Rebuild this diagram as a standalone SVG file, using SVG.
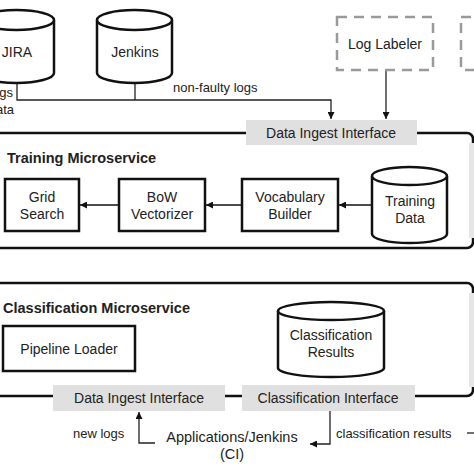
<svg xmlns="http://www.w3.org/2000/svg" width="474" height="474" viewBox="0 0 474 474">
<defs>
<marker id="ah" viewBox="0 0 10 10" refX="10" refY="5" markerWidth="7" markerHeight="7" markerUnits="userSpaceOnUse" orient="auto">
<path d="M0,0 L10,5 L0,10 z" fill="#111"/>
</marker>
<style>
text{font-family:"Liberation Sans",Arial,sans-serif;fill:#222;}
.t{font-size:14px;text-anchor:middle;}
.a{font-size:13px;}
.h{font-size:14.5px;font-weight:bold;}
.box{fill:#fff;stroke:#111;stroke-width:2.5;}
.cyl{fill:#fff;stroke:#111;stroke-width:2.5;}
.cont{fill:none;stroke:#111;stroke-width:2.5;}
.iface{fill:#e0e0e0;}
.bar{fill:#e6e6e6;}
.dash{fill:#fff;stroke:#9a9a9a;stroke-width:2.5;stroke-dasharray:10 7;}
.c{fill:none;stroke:#222;stroke-width:1.3;}
.c2{fill:none;stroke:#111;stroke-width:1.6;}
</style>
</defs>

<g id="training-microservice">
<rect class="cont" x="-10" y="133" width="483" height="115" rx="6"/>
<rect class="bar" x="469" y="143" width="10" height="95"/>
<text class="h" x="7" y="163">Training Microservice</text>
</g>
<g id="classification-microservice">
<rect class="cont" x="-10" y="283" width="483" height="113" rx="6"/>
<rect class="bar" x="469" y="293" width="10" height="94"/>
<text class="h" x="3" y="313">Classification Microservice</text>
</g>

<g id="connectors">
<polyline class="c" points="17,83 17,100 331,100 331,119" marker-end="url(#ah)"/>
<line class="c" x1="135" y1="83" x2="135" y2="100"/>
<line class="c" x1="386" y1="70" x2="386" y2="119" marker-end="url(#ah)"/>
<line class="c2" x1="372" y1="205" x2="339" y2="205" marker-end="url(#ah)"/>
<line class="c2" x1="242" y1="205" x2="206" y2="205" marker-end="url(#ah)"/>
<line class="c2" x1="119" y1="205" x2="80" y2="205" marker-end="url(#ah)"/>
<polyline class="c" points="155,443 139,443 139,412" marker-end="url(#ah)"/>
<polyline class="c" points="330,411 330,444 310,444" marker-end="url(#ah)"/>
<line class="c" x1="467" y1="433" x2="474" y2="433"/>
<text class="a" x="173" y="92">non-faulty logs</text>
<text class="a" x="13" y="97" text-anchor="end">logs</text>
<text class="a" x="14" y="114" text-anchor="end">data</text>
<text class="a" x="73" y="438">new logs</text>
<text class="a" x="336" y="438">classification results</text>
</g>

<g id="jira">
<path class="cyl" d="M-21,20 L-21,73 A37.5,10 0 0 0 54,73 L54,20"/>
<ellipse class="cyl" cx="16.5" cy="20" rx="37.5" ry="10"/>
<text class="t" x="17" y="57">JIRA</text>
</g>
<g id="jenkins">
<path class="cyl" d="M97,20 L97,73 A37.5,10 0 0 0 172,73 L172,20"/>
<ellipse class="cyl" cx="134.5" cy="20" rx="37.5" ry="10"/>
<text class="t" x="135" y="57">Jenkins</text>
</g>
<g id="log-labeler">
<rect class="dash" x="337" y="17" width="96" height="53"/>
<text class="t" x="385" y="49">Log Labeler</text>
</g>
<g id="labeler-2">
<rect class="dash" x="461" y="17" width="40" height="53"/>
</g>

<g id="data-ingest-top">
<rect class="iface" x="246" y="120" width="171" height="25"/>
<text class="t" x="331" y="138">Data Ingest Interface</text>
</g>

<g id="grid-search">
<rect class="box" x="5" y="179" width="74" height="52"/>
<text class="t" x="42" y="202">Grid</text>
<text class="t" x="42" y="219">Search</text>
</g>
<g id="bow-vectorizer">
<rect class="box" x="119" y="179" width="86" height="52"/>
<text class="t" x="162" y="202">BoW</text>
<text class="t" x="162" y="219">Vectorizer</text>
</g>
<g id="vocabulary-builder">
<rect class="box" x="242" y="179" width="96" height="52"/>
<text class="t" x="290" y="202">Vocabulary</text>
<text class="t" x="290" y="219">Builder</text>
</g>
<g id="training-data">
<path class="cyl" d="M372,176 L372,234 A37.5,9 0 0 0 447,234 L447,176"/>
<ellipse class="cyl" cx="409.5" cy="176" rx="37.5" ry="9"/>
<text class="t" x="410" y="206">Training</text>
<text class="t" x="410" y="223">Data</text>
</g>

<g id="pipeline-loader">
<rect class="box" x="3" y="326" width="132" height="45"/>
<text class="t" x="69" y="354">Pipeline Loader</text>
</g>
<g id="classification-results">
<path class="cyl" d="M278,311 L278,368 A53,9 0 0 0 384,368 L384,311"/>
<ellipse class="cyl" cx="331" cy="311" rx="53" ry="9"/>
<text class="t" x="331" y="340">Classification</text>
<text class="t" x="331" y="357">Results</text>
</g>
<g id="data-ingest-bottom">
<rect class="iface" x="53" y="385" width="172" height="26"/>
<text class="t" x="139" y="403">Data Ingest Interface</text>
</g>
<g id="classification-interface">
<rect class="iface" x="242" y="385" width="173" height="26"/>
<text class="t" x="328" y="403">Classification Interface</text>
</g>
<g id="applications">
<text class="t" x="232" y="442" style="font-size:14.5px">Applications/Jenkins</text>
<text class="t" x="232" y="459" style="font-size:14.5px">(CI)</text>
</g>
</svg>
